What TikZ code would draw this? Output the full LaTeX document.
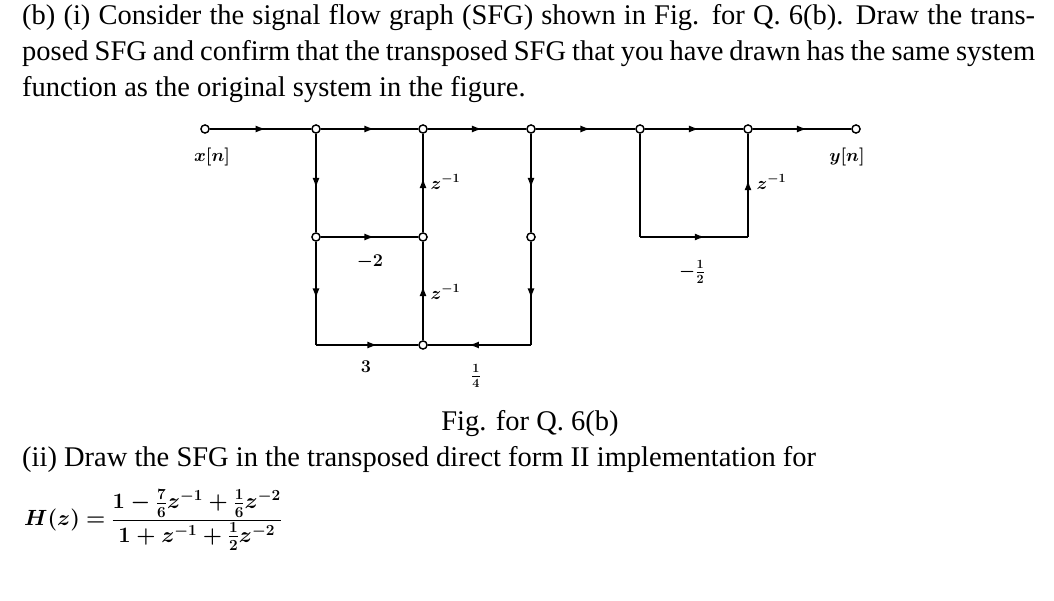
\documentclass[tikz,border=0pt]{standalone}
\usepackage{fix-cm}
\usepackage{amsmath,bm}
\usepackage{fontspec}
\setmainfont{Liberation Serif}
\usetikzlibrary{decorations.markings,arrows.meta}
\begin{document}
\begin{tikzpicture}[x=1pt,y=-1pt,
  nd/.style={circle,draw,line width=1.3pt,fill=white,inner sep=0pt,minimum size=8pt},
  br/.style={line width=1.5pt,postaction={decorate},decoration={markings,mark=at position #1 with {\arrow{Latex[length=10pt,width=7pt]}}}},
  br/.default=0.55,
  lb/.style={font=\fontsize{18}{20}\selectfont\boldmath},
  txt/.style={anchor=north west,inner sep=0pt,font=\fontsize{28.5}{36}\selectfont}]
\useasboundingbox (0,0) rectangle (1054,601);
\node[txt,text width=1013pt,align=justify] (t1) at (22,4) {(b) (i) Consider the signal flow graph (SFG) shown in Fig. for Q. 6(b). Draw the transposed SFG and confirm that the transposed SFG that you have drawn has the same system function as the original system in the figure.};
\node[nd] (a) at (205,129) {};
\node[nd] (b) at (316,129) {};
\node[nd] (c) at (423,129) {};
\node[nd] (d) at (531,129) {};
\node[nd] (e) at (640,129) {};
\node[nd] (f) at (748,129) {};
\node[nd] (g) at (856,129) {};
\node[nd] (b2) at (316,237) {};
\node[nd] (c2) at (423,237) {};
\node[nd] (d2) at (531,237) {};
\node[nd] (c3) at (423,345) {};
\coordinate (b3) at (316,345);
\coordinate (d3) at (531,345);
\coordinate (e2) at (640,237);
\coordinate (f2) at (748,237);
\draw[br] (a) -- (b);
\draw[br] (b) -- (c);
\draw[br] (c) -- (d);
\draw[br] (d) -- (e);
\draw[br] (e) -- (f);
\draw[br] (f) -- (g);
\draw[br] (b) -- (b2);
\draw[br] (b2) -- (c2);
\draw[br] (c2) -- (c);
\draw[br] (d) -- (d2);
\draw[br] (b2) -- (b3);
\draw[br=0.6] (b3) -- (c3);
\draw[br] (c3) -- (c2);
\draw[br] (d2) -- (d3);
\draw[br=0.6] (d3) -- (c3);
\draw[line width=1.5pt] (e) -- (e2);
\draw[br=0.6] (e2) -- (f2);
\draw[br] (f2) -- (f);
\foreach \n in {a,b,c,d,e,f,g,b2,c2,d2,c3} \node[nd] at (\n) {};
\node[lb] (xl) at (212,157) {$x[n]$};
\node[lb] (yl) at (847,157) {$y[n]$};
\node[lb,anchor=west] (z1) at (427,182) {$z^{-1}$};
\node[lb,anchor=west] (z2) at (427,292) {$z^{-1}$};
\node[lb,anchor=west] (z3) at (753,182) {$z^{-1}$};
\node[lb] (m2) at (370,262) {$-2$};
\node[lb] (l3) at (366,367) {$3$};
\node[lb] (q) at (476,376) {$\frac{1}{4}$};
\node[lb] (h) at (692,272) {$-\frac{1}{2}$};
\node[txt,anchor=north] (cap) at (530,410) {Fig. for Q. 6(b)};
\node[txt] (t2) at (22,446) {(ii) Draw the SFG in the transposed direct form II implementation for};
\node[anchor=west,inner sep=0pt,font=\fontsize{22}{26}\selectfont] (hz) at (24,520) {$\bm{H(z)=\dfrac{1-\frac{7}{6}z^{-1}+\frac{1}{6}z^{-2}}{1+z^{-1}+\frac{1}{2}z^{-2}}}$};
\end{tikzpicture}
\end{document}
